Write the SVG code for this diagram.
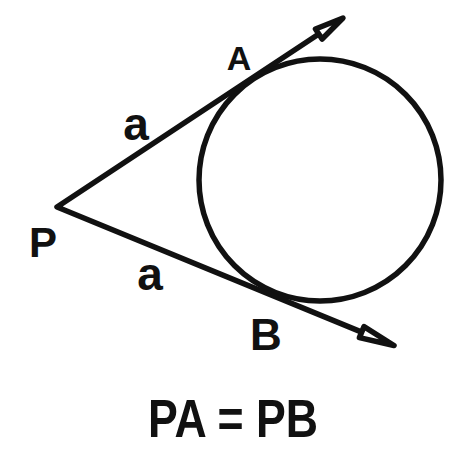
<svg xmlns="http://www.w3.org/2000/svg" width="474" height="474" viewBox="0 0 474 474">
<style>
.ln{fill:none;stroke:#111;stroke-width:5.5;stroke-linecap:round;stroke-linejoin:round}
.hd{fill:#fff;stroke:#111;stroke-width:5.5;stroke-linejoin:round}
.lb{font-family:"Liberation Sans",Arial,sans-serif;font-weight:bold;fill:#111;text-anchor:middle}
</style>
<rect width="474" height="474" fill="#fff"/>
<g id="circle">
<circle cx="320" cy="180" r="121" class="ln"/>
</g>
<g id="connectors">
<path d="M318.8,34 L57,207 L361.7,332.1" class="ln"/>
<polygon points="343,18 322.1,39 315.5,29" class="hd"/>
<polygon points="394,345.5 359.4,337.6 364,326.6" class="hd"/>
</g>
<g id="P"><text x="43" y="257" font-size="42" class="lb">P</text></g>
<g id="A"><text x="239" y="70" font-size="34" class="lb">A</text></g>
<g id="B"><text x="266" y="350" font-size="44" class="lb">B</text></g>
<g id="a1"><text x="136" y="140" font-size="46" class="lb">a</text></g>
<g id="a2"><text x="150" y="290" font-size="46" class="lb">a</text></g>
<g id="eq"><text x="233" y="437" font-size="54" class="lb" textLength="170" lengthAdjust="spacingAndGlyphs">PA = PB</text></g>
</svg>
